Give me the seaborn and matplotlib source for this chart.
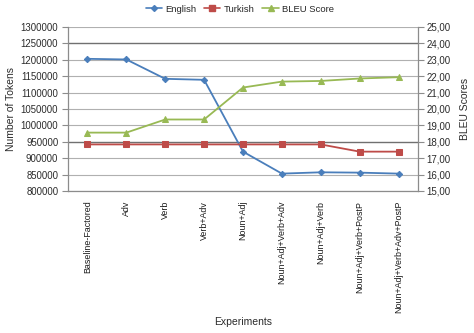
import matplotlib
matplotlib.use("Agg")
import matplotlib.pyplot as plt
from matplotlib.lines import Line2D
from matplotlib.ticker import FixedLocator, NullFormatter
import seaborn as sns
import pandas as pd

experiments = ["Baseline-Factored", "Adv", "Verb", "Verb+Adv", "Noun+Adj",
               "Noun+Adj+Verb+Adv", "Noun+Adj+Verb", "Noun+Adj+Verb+PostP",
               "Noun+Adj+Verb+Adv+PostP"]
english = [1203000, 1201000, 1142000, 1139000, 920000, 853000, 857000, 856000, 853000]
turkish = [942000, 942000, 942000, 942000, 942000, 942000, 942000, 920000, 920000]
bleu = [18.56, 18.56, 19.36, 19.36, 21.31, 21.67, 21.71, 21.86, 21.94]

left_ticks = list(range(800000, 1300001, 50000))
right_ticks = list(range(15, 26))

blue = "#4A7EBB"
red = "#BE4B48"
green = "#98B954"
grid_c = "#B0B0B0"
spine_c = "#8C8C8C"
text_c = "#2b2b2b"

sns.set_theme(style="white")
plt.rcParams["font.family"] = ["Liberation Sans", "DejaVu Sans"]

df = pd.DataFrame({"exp": experiments, "English": english,
                   "Turkish": turkish, "BLEU": bleu})
xpos = list(range(len(experiments)))
df["x"] = xpos

fig = plt.figure(figsize=(4.74, 3.33), dpi=100)
ax = fig.add_axes([68 / 474, 1 - 191 / 333, 350 / 474, 164 / 333])
ax2 = ax.twinx()

sns.lineplot(data=df, x="x", y="English", ax=ax, color=blue, marker="D",
             markersize=3.2, markeredgecolor=blue, linewidth=1.3)
sns.lineplot(data=df, x="x", y="Turkish", ax=ax, color=red, marker="s",
             markersize=5, markeredgecolor=red, linewidth=1.3)
sns.lineplot(data=df, x="x", y="BLEU", ax=ax2, color=green, marker="^",
             markersize=5, markeredgecolor=green, linewidth=1.3)

ax.set_xlim(-0.5, len(experiments) - 0.5)
ax.set_ylim(800000, 1300000)
ax2.set_ylim(15, 25)
ax.set_yticks(left_ticks)
ax.set_yticklabels([str(v) for v in left_ticks], fontsize=6.9, color=text_c)
ax2.set_yticks(right_ticks)
ax2.set_yticklabels([f"{v},00" for v in right_ticks], fontsize=7, color=text_c)

ax.set_xticks(xpos)
ax.set_xticklabels(experiments, rotation=90, fontsize=6.4, color="#1a1a1a")
ax.xaxis.set_minor_locator(FixedLocator([i - 0.5 for i in range(len(experiments) + 1)]))
ax.xaxis.set_minor_formatter(NullFormatter())
ax.tick_params(axis="x", which="major", length=0, pad=7)
ax.tick_params(axis="x", which="minor", length=4, color=spine_c, width=0.8, direction="out")
ax.tick_params(axis="y", length=4, color=spine_c, width=0.8, direction="out", pad=3)
ax2.tick_params(axis="y", length=4, color=spine_c, width=0.8, direction="out", pad=2)

ax.grid(axis="y", color=grid_c, linewidth=0.8)
ax.set_axisbelow(True)
for i, gl in enumerate(ax.get_ygridlines()):
    if left_ticks[i] in (1250000, 950000):
        gl.set_color("#707070")
        gl.set_linewidth(1.0)

for a in (ax, ax2):
    a.spines["top"].set_visible(False)
    for s in ("left", "right", "bottom"):
        a.spines[s].set_color(spine_c)
        a.spines[s].set_linewidth(0.9)
ax.spines["right"].set_visible(False)
ax2.spines["left"].set_visible(False)
ax2.spines["bottom"].set_visible(False)

ax.set_ylabel("Number of Tokens", fontsize=7.5, color=text_c, labelpad=3)
ax2.set_ylabel("BLEU Scores", fontsize=7.5, color=text_c, labelpad=7)
ax.set_xlabel("Experiments", fontsize=7.5, color=text_c)
ax.xaxis.set_label_coords(0.5, -0.77)

handles = [
    Line2D([], [], color=blue, marker="D", markersize=3, linewidth=1.2),
    Line2D([], [], color=red, marker="s", markersize=4.5, linewidth=1.2),
    Line2D([], [], color=green, marker="^", markersize=4.5, linewidth=1.2),
]
fig.legend(handles, ["English", "Turkish", "BLEU Score"], loc="center",
           bbox_to_anchor=(240 / 474, 1 - 9 / 333), ncol=3, frameon=False,
           fontsize=6.8, handlelength=1.7, handletextpad=0.4, columnspacing=0.8)

fig.savefig("out.png", dpi=100)
